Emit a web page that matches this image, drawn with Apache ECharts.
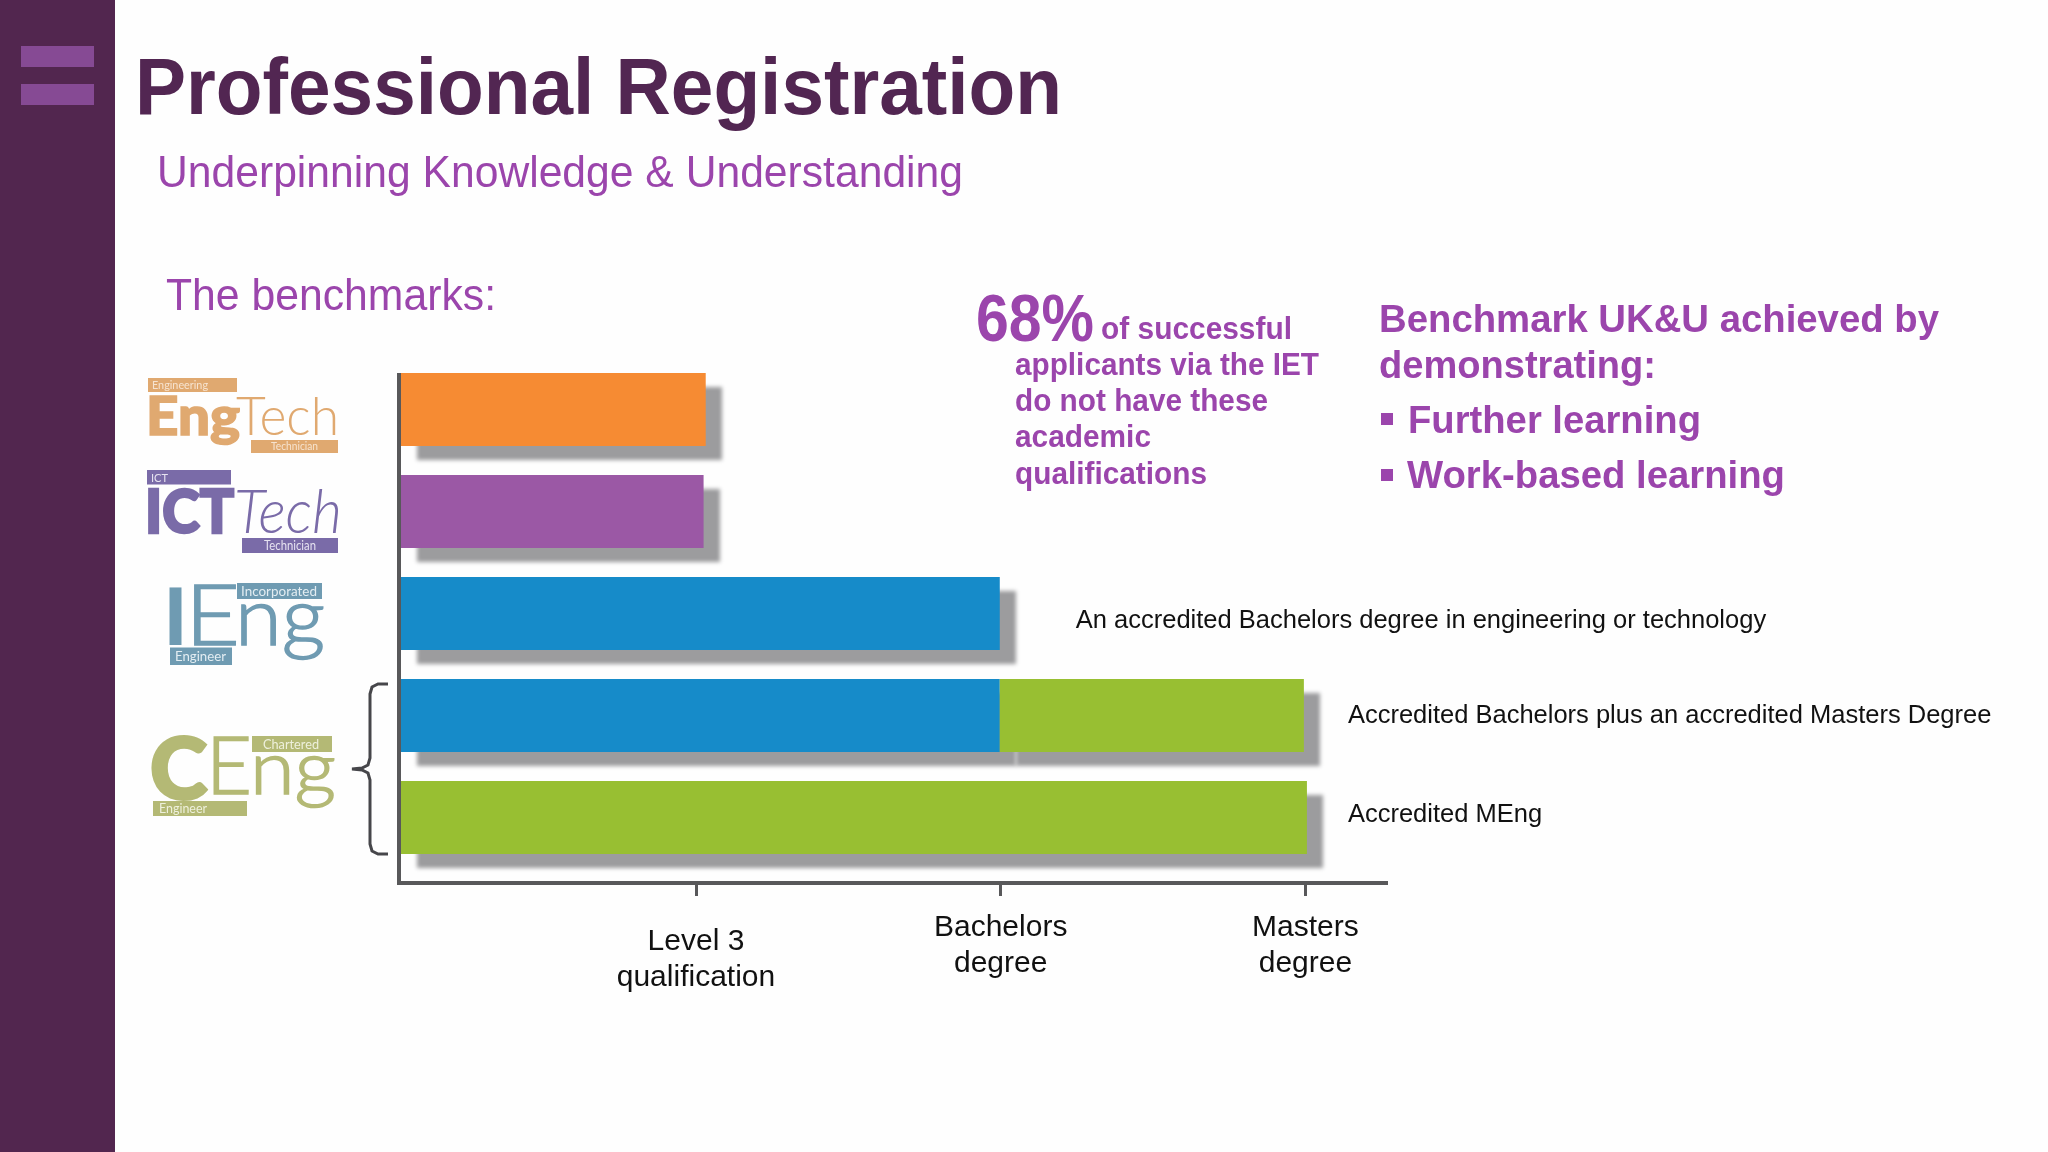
<!DOCTYPE html>
<html>
<head>
<meta charset="utf-8">
<style>html,body{margin:0;background:#fff}#chart{width:2048px;height:1152px}</style>
<script src="https://cdn.jsdelivr.net/npm/echarts@6/dist/echarts.min.js"></script>
</head>
<body>
<div id="chart"></div>
<script>
// values are in "qualification level" units: 1 = Level 3, 2 = Bachelors, 3 = Masters
const categories = ['EngTech', 'ICTTech', 'IEng', 'CEng Bachelors + Masters', 'CEng MEng']
const orangeValues = [1.032, null, null, null, null]
const purpleValues = [null, 1.025, null, null, null]
const blueValues = [null, null, 1.997, 1.997, null]
const greenValues = [null, null, null, 0.998, 3.005]
const annotations = ['', '', 'An accredited Bachelors degree in engineering or technology',
  'Accredited Bachelors plus an accredited Masters Degree', 'Accredited MEng']
const tickValues = [1, 2, 3]
const tickLabels = ['Level 3\nqualification', 'Bachelors\ndegree', 'Masters\ndegree']

const SANS = '"Liberation Sans", Arial, sans-serif'
const LOGO = 'Lato, "Open Sans", sans-serif'
const PURPLE = '#9b45ac'
const DARK = '#522652'

const measure = document.createElement('canvas').getContext('2d')

// text placed by its baseline, stretched to the width
function txt(text, x, base, width, size, fill, weight = 'normal', family = SANS, style = 'normal') {
  measure.font = `${style} ${weight} ${size}px ${family}`
  return {
    type: 'text', x, y: base - size * (family === LOGO ? 0.31 : 0.26),
    scaleX: width / measure.measureText(text).width,
    silent: true, z: 10,
    style: { text, x: 0, y: 0, fill, fontSize: size, fontWeight: weight, fontFamily: family, fontStyle: style, verticalAlign: 'middle' }
  }
}

// the logo's letters sit between the installed weights, thicken them with a stroke
function heavy(el, lineWidth) {
  el.style.stroke = el.style.fill
  el.style.lineWidth = lineWidth
  return el
}

function box(x, y, width, height, fill) {
  return { type: 'rect', silent: true, z: 5, shape: { x, y, width, height }, style: { fill } }
}

const ENGTECH = '#e0a970'; const ICT = '#7a6ba8'; const IENG = '#6f9bb2'; const CENG = '#b4b975'

const logos = [
  box(148, 378, 89, 14, ENGTECH), txt('Engineering', 152, 389, 56, 11, '#f6e3cf', 'normal', LOGO),
  heavy(txt('Eng', 146, 434, 94, 54, ENGTECH, 900, LOGO), 1.5), txt('Tech', 236, 434, 103, 54, ENGTECH, 300, LOGO),
  box(251, 440, 87, 13, ENGTECH), txt('Technician', 271, 450, 47, 11, '#f6e3cf', 'normal', LOGO),

  box(147, 470, 84, 14.5, ICT), txt('ICT', 151, 482, 17, 12, '#e6e2f0', 'normal', LOGO),
  heavy(txt('ICT', 145, 532, 89, 60, ICT, 900, LOGO), 2.5), txt('Tech', 234, 532, 108, 62, ICT, 300, LOGO, 'italic'),
  box(242, 538, 96, 15, ICT), txt('Technician', 264, 550, 52, 13, '#e6e2f0', 'normal', LOGO),

  txt('I', 164, 644, 23, 84, IENG, 'bold'), heavy(txt('E', 185, 644, 55, 84, IENG, 300, LOGO), 1.5),
  heavy(txt('ng', 235, 644, 90, 80, IENG, 300, LOGO), 1.5),
  box(237, 583, 85, 16, IENG), txt('Incorporated', 241, 596, 76, 14, '#e3edf2', 'normal', LOGO),
  box(170, 647.5, 62, 17.5, IENG), txt('Engineer', 175, 661, 51, 14, '#e3edf2', 'normal', LOGO),

  heavy(txt('C', 150, 798, 57, 85, CENG, 900, LOGO), 3), heavy(txt('E', 206, 793, 46, 80, CENG, 300, LOGO), 1.5),
  heavy(txt('ng', 250, 793, 86, 75, CENG, 300, LOGO), 1.5),
  box(252, 736, 80, 16, CENG), txt('Chartered', 263, 749, 56, 13, '#eef0dc', 'normal', LOGO),
  box(153, 801, 94, 15, CENG), txt('Engineer', 159, 813, 48, 13, '#eef0dc', 'normal', LOGO)
]

const slide = [
  box(0, 0, 115, 1152, '#52264f'),
  box(21, 46, 73, 21, '#864a94'),
  box(21, 84, 73, 21, '#864a94'),
  txt('Professional Registration', 135, 113, 927, 79, DARK, 'bold'),
  txt('Underpinning Knowledge & Understanding', 157, 186, 806, 44, PURPLE),
  txt('The benchmarks:', 166, 309, 330, 44, PURPLE),
  txt('68%', 976, 340, 118, 66, PURPLE, 'bold'),
  txt('of successful', 1101, 339, 191, 31, PURPLE, 'bold'),
  txt('applicants via the IET', 1015, 375, 304, 31, PURPLE, 'bold'),
  txt('do not have these', 1015, 411, 253, 31, PURPLE, 'bold'),
  txt('academic', 1015, 447, 136, 31, PURPLE, 'bold'),
  txt('qualifications', 1015, 484, 192, 31, PURPLE, 'bold'),
  txt('Benchmark UK&U achieved by', 1379, 331, 560, 39, PURPLE, 'bold'),
  txt('demonstrating:', 1379, 377, 277, 39, PURPLE, 'bold'),
  box(1381, 413, 12, 12, PURPLE),
  txt('Further learning', 1408, 432, 293, 39, PURPLE, 'bold'),
  box(1381, 469, 12, 12, PURPLE),
  txt('Work-based learning', 1407, 487, 378, 39, PURPLE, 'bold'),
  // y axis line and the brace round the two CEng routes
  { type: 'line', silent: true, z: 1, shape: { x1: 399, y1: 373, x2: 399, y2: 885 }, style: { stroke: '#58585a', lineWidth: 4 } },
  { type: 'polyline', silent: true, z: 5,
    shape: { points: [[388, 684], [378, 684], [372, 687], [370, 694], [370, 758], [368, 765], [362, 768], [352, 769], [362, 770], [368, 773], [370, 780], [370, 844], [372, 851], [378, 854], [388, 854]] },
    style: { fill: 'none', stroke: '#46464a', lineWidth: 3 } }
]

function barSeries(name, values, color) {
  return {
    name, type: 'bar', stack: 'route', barWidth: 73,
    data: values.map((value, i) => ({ value, label: labelFor(name, i) })),
    itemStyle: { color, shadowColor: '#9c9c9e', shadowBlur: 4, shadowOffsetX: 16, shadowOffsetY: 14 }
  }
}

// the notes right of the bars hang off the last segment of their row
function labelFor(name, i) {
  const owner = i === 2 ? 'Blue' : 'Green'
  if (!annotations[i] || name !== owner) return { show: false }
  const offset = [[71, 7], [39, 0], [36, -3]][i - 2]
  return {
    show: true, position: 'right', distance: 5, offset, formatter: annotations[i],
    color: '#111', fontSize: 25.5, fontFamily: SANS
  }
}

const chart = echarts.init(document.getElementById('chart'))
chart.setOption({
  animation: false,
  backgroundColor: '#fefefe',
  grid: { left: 401, right: 662, top: 358.5, bottom: 283.5 },
  xAxis: {
    type: 'value', min: 0.032, max: 3.2645, offset: 14.5,
    splitLine: { show: false },
    axisLine: { show: true, onZero: false, lineStyle: { color: '#58585a', width: 4, cap: 'square' } },
    axisTick: { show: true, customValues: tickValues, length: 13, lineStyle: { color: '#58585a', width: 3 } },
    axisLabel: {
      show: true, customValues: tickValues, margin: 27, hideOverlap: false,
      formatter: v => {
        const lines = tickLabels[tickValues.indexOf(v)].split('\n').map(l => `{line|${l}}`)
        // the Level 3 label sits a little lower than the other two
        return (v === 1 ? ['{gap| }'] : []).concat(lines).join('\n')
      },
      color: '#111', fontSize: 30, fontFamily: SANS,
      rich: {
        gap: { fontSize: 10, lineHeight: 14 },
        line: { fontSize: 30, fontFamily: SANS, color: '#111', lineHeight: 36 }
      }
    }
  },
  yAxis: {
    type: 'category', data: categories, inverse: true,
    axisLine: { show: false }, axisTick: { show: false }, axisLabel: { show: false }
  },
  series: [
    barSeries('Orange', orangeValues, '#f68b33'),
    barSeries('Purple', purpleValues, '#9b58a5'),
    barSeries('Blue', blueValues, '#168bc9'),
    barSeries('Green', greenValues, '#98bf32')
  ],
  graphic: { elements: [...slide, ...logos] }
})
</script>
</body>
</html>
